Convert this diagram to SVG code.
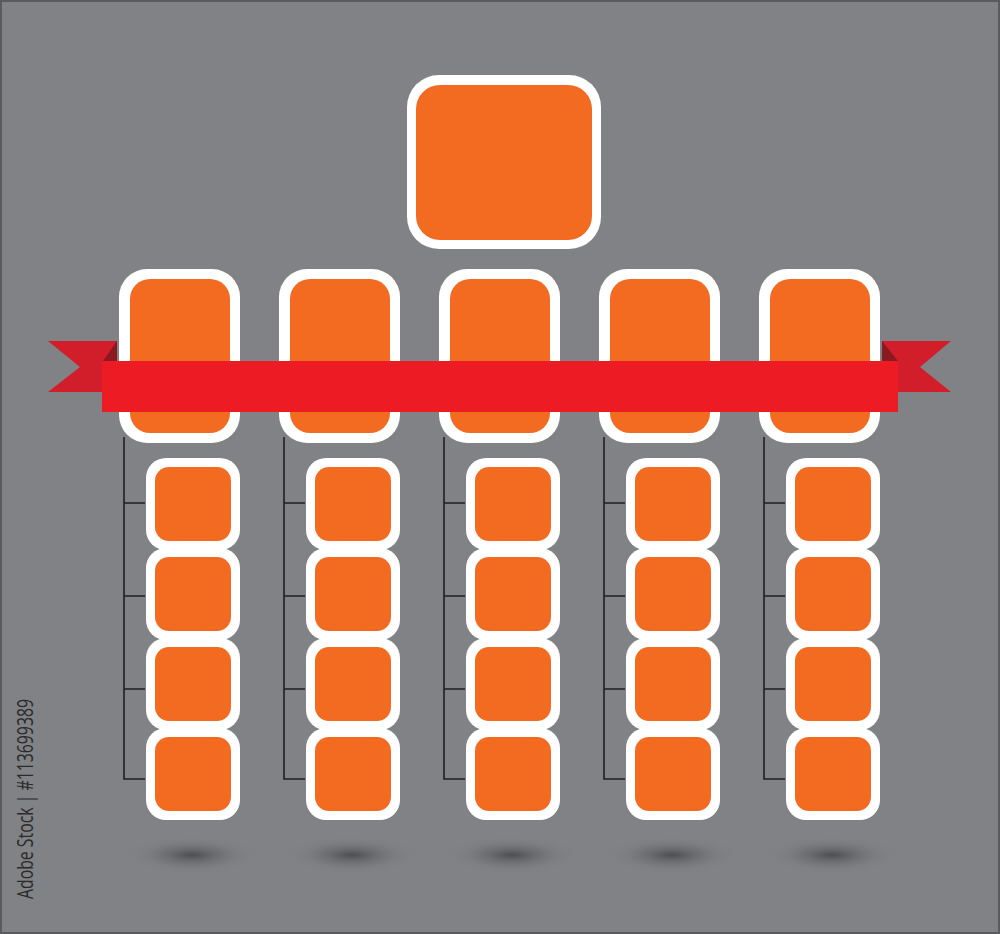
<svg xmlns="http://www.w3.org/2000/svg" width="1000" height="934" viewBox="0 0 1000 934">
  <defs>
    <radialGradient id="shadow" cx="0.5" cy="0.5" r="0.5">
      <stop offset="0" stop-color="#404043" stop-opacity="0.8"/>
      <stop offset="0.35" stop-color="#55565a" stop-opacity="0.45"/>
      <stop offset="0.7" stop-color="#6e6f73" stop-opacity="0.15"/>
      <stop offset="1" stop-color="#808285" stop-opacity="0"/>
    </radialGradient>
    <style>
      .bg { fill: #808285; }
      .frame { fill: none; stroke: #5a5b5e; stroke-width: 2; }
      .white { fill: #ffffff; }
      .orange { fill: #F36A21; }
      .conn { fill: none; stroke: #231F20; stroke-width: 1.6; }
      .rib { fill: #ED1C24; }
      .tail { fill: #D21E2A; }
      .fold { fill: #8B1A20; }
      .side { font-family: "Open Sans", "DejaVu Sans", sans-serif; font-size: 22px; fill: #2a2a2c; }
    </style>
  </defs>

  <rect class="bg" x="0" y="0" width="1000" height="934"/>

  <!-- shadows -->
  <g id="shadows">
    <ellipse cx="192" cy="855" rx="72" ry="20" fill="url(#shadow)"/>
    <ellipse cx="352" cy="855" rx="72" ry="20" fill="url(#shadow)"/>
    <ellipse cx="512" cy="855" rx="72" ry="20" fill="url(#shadow)"/>
    <ellipse cx="672" cy="855" rx="72" ry="20" fill="url(#shadow)"/>
    <ellipse cx="832" cy="855" rx="72" ry="20" fill="url(#shadow)"/>
  </g>

  <!-- connectors -->
  <g id="connectors">
    <path class="conn" d="M124,437 V779 H145 M124,503 H145 M124,596 H145 M124,689 H145"/>
    <path class="conn" d="M284,437 V779 H305 M284,503 H305 M284,596 H305 M284,689 H305"/>
    <path class="conn" d="M444,437 V779 H465 M444,503 H465 M444,596 H465 M444,689 H465"/>
    <path class="conn" d="M604,437 V779 H625 M604,503 H625 M604,596 H625 M604,689 H625"/>
    <path class="conn" d="M764,437 V779 H785 M764,503 H785 M764,596 H785 M764,689 H785"/>
  </g>

  <!-- top node -->
  <g id="top">
    <rect class="white" x="407" y="75" width="194" height="174" rx="32"/>
    <rect class="orange" x="416" y="85" width="176" height="155" rx="24"/>
  </g>

  <!-- middle row nodes -->
  <g id="mid1"><rect class="white" x="119" y="269" width="121" height="174" rx="28"/><rect class="orange" x="130" y="279" width="100" height="154" rx="20"/></g>
  <g id="mid2"><rect class="white" x="279" y="269" width="121" height="174" rx="28"/><rect class="orange" x="290" y="279" width="100" height="154" rx="20"/></g>
  <g id="mid3"><rect class="white" x="439" y="269" width="121" height="174" rx="28"/><rect class="orange" x="450" y="279" width="100" height="154" rx="20"/></g>
  <g id="mid4"><rect class="white" x="599" y="269" width="121" height="174" rx="28"/><rect class="orange" x="610" y="279" width="100" height="154" rx="20"/></g>
  <g id="mid5"><rect class="white" x="759" y="269" width="121" height="174" rx="28"/><rect class="orange" x="770" y="279" width="100" height="154" rx="20"/></g>

  <!-- ribbon -->
  <g id="ribbon">
    <polygon class="tail" points="48,341 117,341 117,392 48,392 80,367"/>
    <polygon class="fold" points="117,341 103,361 117,361"/>
    <polygon class="tail" points="951,341 882,341 882,392 951,392 920,367"/>
    <polygon class="fold" points="882,341 898,361 882,361"/>
    <rect class="rib" x="102" y="361" width="796" height="51"/>
  </g>

  <!-- column 1 -->
  <g id="c1">
    <g id="c1r1"><rect class="white" x="146" y="458" width="94" height="92" rx="20"/></g>
    <g id="c1r2"><rect class="white" x="146" y="548" width="94" height="92" rx="20"/></g>
    <g id="c1r3"><rect class="white" x="146" y="638" width="94" height="92" rx="20"/></g>
    <g id="c1r4"><rect class="white" x="146" y="728" width="94" height="92" rx="20"/></g>
    <rect class="orange" x="155" y="467" width="76" height="74" rx="14"/>
    <rect class="orange" x="155" y="557" width="76" height="74" rx="14"/>
    <rect class="orange" x="155" y="647" width="76" height="74" rx="14"/>
    <rect class="orange" x="155" y="737" width="76" height="74" rx="14"/>
  </g>
  <!-- column 2 -->
  <g id="c2">
    <g id="c2r1"><rect class="white" x="306" y="458" width="94" height="92" rx="20"/></g>
    <g id="c2r2"><rect class="white" x="306" y="548" width="94" height="92" rx="20"/></g>
    <g id="c2r3"><rect class="white" x="306" y="638" width="94" height="92" rx="20"/></g>
    <g id="c2r4"><rect class="white" x="306" y="728" width="94" height="92" rx="20"/></g>
    <rect class="orange" x="315" y="467" width="76" height="74" rx="14"/>
    <rect class="orange" x="315" y="557" width="76" height="74" rx="14"/>
    <rect class="orange" x="315" y="647" width="76" height="74" rx="14"/>
    <rect class="orange" x="315" y="737" width="76" height="74" rx="14"/>
  </g>
  <!-- column 3 -->
  <g id="c3">
    <g id="c3r1"><rect class="white" x="466" y="458" width="94" height="92" rx="20"/></g>
    <g id="c3r2"><rect class="white" x="466" y="548" width="94" height="92" rx="20"/></g>
    <g id="c3r3"><rect class="white" x="466" y="638" width="94" height="92" rx="20"/></g>
    <g id="c3r4"><rect class="white" x="466" y="728" width="94" height="92" rx="20"/></g>
    <rect class="orange" x="475" y="467" width="76" height="74" rx="14"/>
    <rect class="orange" x="475" y="557" width="76" height="74" rx="14"/>
    <rect class="orange" x="475" y="647" width="76" height="74" rx="14"/>
    <rect class="orange" x="475" y="737" width="76" height="74" rx="14"/>
  </g>
  <!-- column 4 -->
  <g id="c4">
    <g id="c4r1"><rect class="white" x="626" y="458" width="94" height="92" rx="20"/></g>
    <g id="c4r2"><rect class="white" x="626" y="548" width="94" height="92" rx="20"/></g>
    <g id="c4r3"><rect class="white" x="626" y="638" width="94" height="92" rx="20"/></g>
    <g id="c4r4"><rect class="white" x="626" y="728" width="94" height="92" rx="20"/></g>
    <rect class="orange" x="635" y="467" width="76" height="74" rx="14"/>
    <rect class="orange" x="635" y="557" width="76" height="74" rx="14"/>
    <rect class="orange" x="635" y="647" width="76" height="74" rx="14"/>
    <rect class="orange" x="635" y="737" width="76" height="74" rx="14"/>
  </g>
  <!-- column 5 -->
  <g id="c5">
    <g id="c5r1"><rect class="white" x="786" y="458" width="94" height="92" rx="20"/></g>
    <g id="c5r2"><rect class="white" x="786" y="548" width="94" height="92" rx="20"/></g>
    <g id="c5r3"><rect class="white" x="786" y="638" width="94" height="92" rx="20"/></g>
    <g id="c5r4"><rect class="white" x="786" y="728" width="94" height="92" rx="20"/></g>
    <rect class="orange" x="795" y="467" width="76" height="74" rx="14"/>
    <rect class="orange" x="795" y="557" width="76" height="74" rx="14"/>
    <rect class="orange" x="795" y="647" width="76" height="74" rx="14"/>
    <rect class="orange" x="795" y="737" width="76" height="74" rx="14"/>
  </g>

  <text class="side" transform="translate(33,899) rotate(-90)" textLength="200" lengthAdjust="spacingAndGlyphs">Adobe Stock | #113699389</text>

  <rect class="frame" x="1" y="1" width="998" height="932"/>
</svg>
